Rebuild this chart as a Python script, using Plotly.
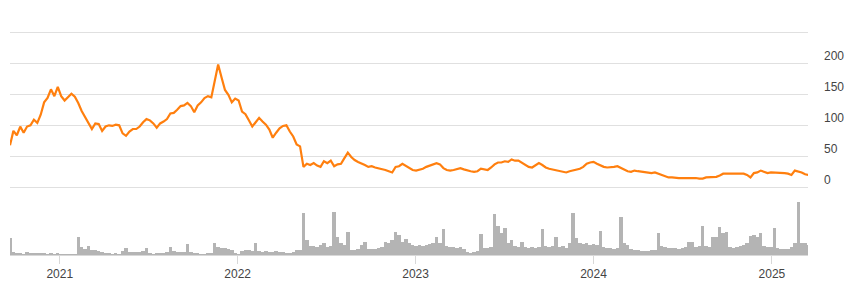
import pandas as pd
import plotly.graph_objects as go

# Weekly samples (first week starting 2020-09-21)
start_date = "2020-09-21"
price = [
    69, 92, 85, 99, 89, 99, 101, 110, 105, 118,
    138, 145, 159, 148, 163, 148, 141, 147, 152, 147,
    137, 124, 115, 104, 95, 104, 103, 92, 99, 101,
    100, 102, 101, 88, 84, 91, 95, 95, 99, 106,
    111, 109, 104, 97, 104, 107, 111, 120, 121, 126,
    132, 133, 137, 132, 122, 133, 138, 145, 148,
    146, 170, 199, 178, 158, 150, 138, 144, 141, 123,
    119, 109, 99, 106, 113, 107, 102, 94, 81, 89,
    96, 100, 101, 91, 83, 70, 67, 34, 39, 37,
    40, 36, 34, 43, 40, 44, 35, 38, 39, 48,
    57, 50, 45, 42, 40, 37, 34, 35, 33, 32,
    30, 29, 27, 25, 34, 35, 39, 36,
    32, 29, 28, 29, 31, 34, 36, 39, 40, 38,
    32, 29, 28, 29, 30, 32, 30, 28, 27, 26,
    27, 31, 30, 29, 33, 38, 41, 41, 43, 42,
    46, 44, 44, 41, 37, 34, 33, 37, 40, 37,
    33, 31, 30, 28, 27, 26, 25, 27, 28, 29,
    31, 34, 39, 41, 42, 39, 36, 34, 33,
    33, 34, 35, 32, 29, 27, 26, 28, 27, 26,
    25, 24, 24, 25, 23, 20, 18, 17, 17, 16,
    16, 16, 16, 17, 17, 16, 15, 15, 17, 17,
    17, 18, 20, 23, 23, 23, 23, 22, 22, 23,
    21, 17, 24, 25, 28, 26, 24, 25, 25, 24,
    25, 24, 23, 21, 28, 27, 25, 22, 21,
]
volume = [
    17, 3, 2, 2, 1, 3, 2, 2, 2, 2,
    2, 1, 2, 1, 2, 1, 1, 1, 0.5, 1,
    18, 8, 6, 9, 5, 5, 4, 3, 2, 2,
    1, 2, 1, 4, 7, 3, 3, 3, 3, 4,
    7, 2, 1, 2, 2, 2, 3, 8, 4, 3,
    3, 3, 11, 3, 2, 2, 1, 1, 2, 2,
    12, 8, 7, 7, 6, 5, 2, 1, 4, 5,
    5, 4, 12, 4, 3, 4, 3, 3, 4, 3,
    3, 2, 2, 3, 5, 5, 42, 15, 9, 9,
    8, 10, 12, 8, 9, 43, 18, 12, 10, 23,
    5, 5, 6, 10, 13, 6, 6, 6, 7, 8,
    13, 12, 15, 23, 20, 13, 16, 12, 10, 9,
    10, 9, 10, 11, 12, 18, 12, 26, 9, 8,
    8, 7, 8, 6, 3, 2, 3, 4, 21, 7,
    7, 8, 41, 29, 22, 27, 12, 15, 9, 8,
    13, 8, 7, 8, 7, 8, 26, 9, 8, 9,
    18, 8, 9, 7, 12, 42, 17, 12, 11, 12,
    10, 11, 10, 24, 8, 7, 7, 6, 7, 38,
    12, 10, 6, 5, 5, 4, 4, 4, 5, 5,
    22, 9, 8, 7, 7, 7, 6, 7, 8, 13,
    13, 8, 9, 29, 9, 8, 18, 18, 28, 22,
    23, 8, 7, 8, 9, 10, 12, 19, 20, 18,
    22, 9, 8, 8, 27, 7, 6, 6, 6, 8,
    12, 53, 12, 12, 10,
]
dates = pd.date_range(start_date, periods=len(price), freq="7D")

year_ticks = ["2021-01-01", "2022-01-01", "2023-01-01", "2024-01-01", "2025-01-01"]
year_labels = ["2021", "2022", "2023", "2024", "2025"]
price_ticks = [0, 50, 100, 150, 200, 250]
price_labels = ["0", "50", "100", "150", "200", ""]

LINE = "#ff7f0e"
GRID = "#e0e0e0"
FONT = "Liberation Sans, Arial, sans-serif"

fig = go.Figure()
fig.add_trace(go.Scatter(
    x=dates, y=price, mode="lines",
    line=dict(color=LINE, width=2.2),
    xaxis="x", yaxis="y", showlegend=False, hoverinfo="skip",
))
fig.add_trace(go.Bar(
    x=dates, y=volume[:len(dates)],
    marker=dict(color="#b4b4b4", line=dict(width=0)),
    width=7 * 24 * 3600 * 1000,
    xaxis="x", yaxis="y2", showlegend=False, hoverinfo="skip",
))

W, H = 861, 298
top, bottom = 31, 43
plot_h = H - top - bottom
fig.update_layout(
    width=W, height=H,
    margin=dict(l=10, r=53, t=top, b=bottom, pad=0),
    paper_bgcolor="white", plot_bgcolor="white",
    font=dict(family=FONT, size=12, color="#444444"),
    bargap=0,
    xaxis=dict(
        type="date",
        range=["2020-09-21", "2025-03-16"],
        anchor="y2",
        tickvals=year_ticks, ticktext=year_labels,
        showgrid=False, zeroline=False,
        showline=True, linecolor="#d8d8d8", linewidth=1,
        ticks="outside", ticklen=8, tickcolor="#d8d8d8", tickwidth=1,
        tickfont=dict(size=12, color="#444444"),
        fixedrange=True,
    ),
    yaxis=dict(
        domain=[(H - bottom - 189.2) / plot_h, 1],
        range=[-2, 253],
        side="right",
        anchor="x",
        tickvals=price_ticks, ticktext=price_labels,
        ticklabelposition="outside top",
        ticks="", ticklabelstandoff=15,
        showgrid=True, gridcolor=GRID, gridwidth=1,
        zeroline=False,
        showline=False,
        tickfont=dict(size=12, color="#444444"),
        fixedrange=True,
    ),
    yaxis2=dict(
        domain=[0, (H - bottom - 200) / plot_h],
        range=[0, 55],
        anchor="x",
        showticklabels=False, showgrid=False, zeroline=False,
        ticks="", showline=False,
        fixedrange=True,
    ),
)

fig.write_html("out.html")
